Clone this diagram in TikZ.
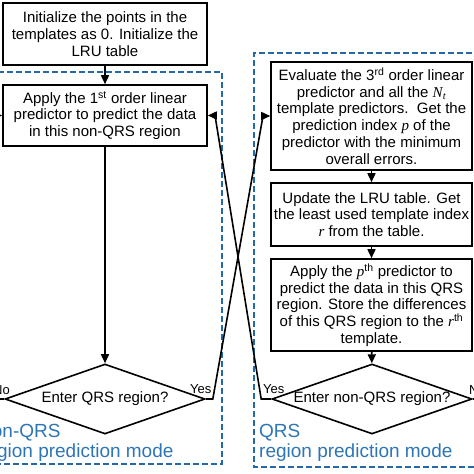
\documentclass[tikz,border=0pt]{standalone}
\usepackage{fontspec}
\setmainfont{Liberation Sans}
\newfontfamily\tmsfont{Liberation Serif}
\usetikzlibrary{arrows.meta,shapes.geometric}
\definecolor{modeblue}{RGB}{46,117,182}
\definecolor{frameblue}{RGB}{36,105,165}
\newcommand{\mi}[1]{{\tmsfont\itshape #1}}
\begin{document}
\begin{tikzpicture}[x=1pt,y=-1pt,
  box/.style={draw, line width=1.6pt, align=center, inner sep=0pt, font=\fontsize{15}{16.7}\selectfont},
  dia/.style={diamond, draw, line width=1.6pt, inner sep=0pt, aspect=2.857, minimum width=200pt, minimum height=70pt, font=\fontsize{15}{16.7}\selectfont},
  arr/.style={line width=1.6pt, -{Triangle[length=9pt,width=8pt]}},
  plain/.style={line width=1.6pt},
  frame/.style={draw=frameblue, line width=2.8pt, dash pattern=on 6pt off 3pt},
  lbl/.style={inner sep=0pt, font=\fontsize{13}{14}\selectfont},
  modetext/.style={inner sep=0pt, text=modeblue, font=\fontsize{19}{20}\selectfont}]
\clip (0,0) rectangle (474,474);
% frames
\draw[frame] (-20,72) -- (222,72) -- (222,464) -- (-20,464);
\draw[frame] (490,53) -- (254,53) -- (254,467) -- (490,467);
% boxes
\node[box, minimum width=204pt, minimum height=62pt] (init) at (105,34) {Initialize the points in the\\templates as 0. Initialize the\\LRU table};
\node[box, minimum width=204pt, minimum height=61pt] (lin) at (105,115.5) {Apply the 1\textsuperscript{st} order linear\\predictor to predict the data\\in this non-QRS region};
\node[box, minimum width=201pt, minimum height=108pt] (eval) at (371.5,116) {Evaluate the 3\textsuperscript{rd} order linear\\predictor and all the \mi{N}\textsubscript{\mi{t}}\\template predictors.\ \ Get the\\prediction index \mi{p} of the\\predictor with the minimum\\overall errors.};
\node[box, minimum width=201pt, minimum height=63pt] (upd) at (371.5,214.5) {Update the LRU table. Get\\the least used template index\\\mi{r} from the table.};
\node[box, minimum width=201pt, minimum height=92pt] (appp) at (371.5,305) {Apply the \mi{p}\textsuperscript{th} predictor to\\predict the data in this QRS\\region. Store the differences\\of this QRS region to the \mi{r}\textsuperscript{th}\\template.};
\node[dia] (qrs) at (105,399) {Enter QRS region?};
\node[dia] (nqrs) at (372,399) {Enter non-QRS region?};
% connectors
\draw[arr] (init) -- (lin);
\draw[arr] (lin) -- (qrs);
\draw[arr] (eval) -- (upd);
\draw[arr] (upd) -- (appp);
\draw[arr] (appp) -- (nqrs);
\draw[arr] (qrs.west) -- (-20,399) |- (lin.west);
\draw[arr] (qrs.east) -- ++(7,0) -- (263,116) -- (eval.west);
\draw[arr] (nqrs.west) -- ++(-10,0) -- (215,115.5) -- (lin.east);
\draw[plain] (nqrs.east) -- ++(20,0);
% labels
\node[lbl, anchor=base west] (no1) at (-7,394) {No};
\node[lbl, anchor=base west] (yes1) at (190,393) {Yes};
\node[lbl, anchor=base west] (yes2) at (263,393) {Yes};
\node[lbl, anchor=base west] (no2) at (469,394) {No};
\node[modetext, anchor=base west] (m1a) at (-22,437) {Non-QRS};
\node[modetext, anchor=base west] (m1b) at (-20,457) {region prediction mode};
\node[modetext, anchor=base west] (m2a) at (259,437) {QRS};
\node[modetext, anchor=base west] (m2b) at (259,457) {region prediction mode};
\end{tikzpicture}
\end{document}
